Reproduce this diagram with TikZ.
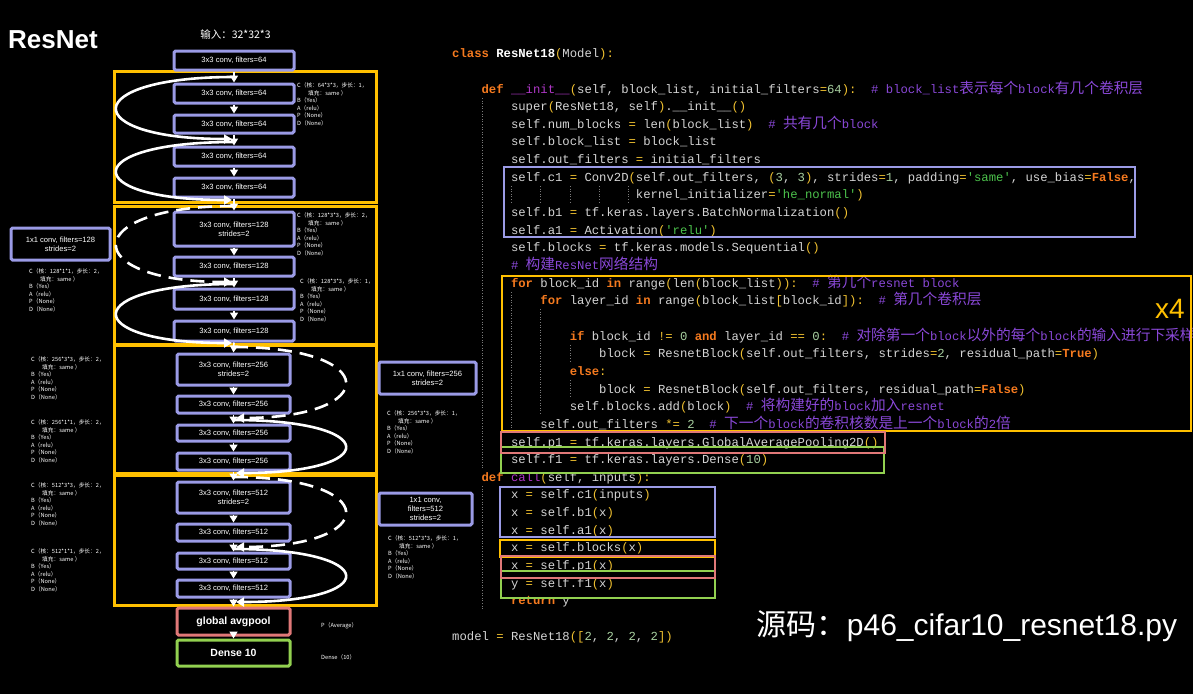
\documentclass[tikz,border=0pt]{standalone}
\usepackage{fontspec}
\setmainfont{Liberation Sans}
\setmonofont{Liberation Mono}
\newfontfamily\zhfont{Noto Sans CJK SC}
\newfontfamily\zhcode[Scale=1.2]{Noto Sans CJK SC}
\usetikzlibrary{arrows.meta}
\definecolor{ctext}{HTML}{D4D4D4}
\definecolor{ckw}{HTML}{F57A1F}
\definecolor{cfn}{HTML}{B038C8}
\definecolor{ccm}{HTML}{8A48D8}
\definecolor{cstr}{HTML}{4CC24C}
\definecolor{cnum}{HTML}{A8D0A0}
\definecolor{cop}{HTML}{F2C230}
\definecolor{lav}{HTML}{9B9BE6}
\definecolor{gold}{HTML}{FFC000}
\definecolor{rosy}{HTML}{E07878}
\definecolor{lgreen}{HTML}{92D050}
\definecolor{guide}{HTML}{7A7A7A}
\newcommand\kwc[1]{\textcolor{ckw}{\bfseries #1}}
\newcommand\fnc[1]{\textcolor{cfn}{#1}}
\newcommand\cmc[1]{\textcolor{ccm}{#1}}
\newcommand\stc[1]{\textcolor{cstr}{#1}}
\newcommand\nuc[1]{\textcolor{cnum}{#1}}
\newcommand\opc[1]{\textcolor{cop}{#1}}
\newcommand\zh[1]{{\zhcode #1}}
\newcommand\bx[7]{\pgfmathsetmacro\mybw{#4-#2}\pgfmathsetmacro\mybh{#5-#3}%
  \node[#6, minimum width=\mybw pt, minimum height=\mybh pt] (#1) at ({(#2+#4)/2},{(#3+#5)/2}) {#7};}
\newcommand\cl[4]{\node[code] (#1) at ({452+7.35*#3},{57.7+17.65*#2}) {#4};}
\newcommand\annot[5]{%
  \node[ann] (#1a) at (#2,#3+2.1) {C（核：#4，步长：#5，};
  \node[ann] (#1b) at (#2+11,#3+10.1) {填充：same ）};
  \node[ann] (#1c) at (#2,#3+17.6) {B（Yes）};
  \node[ann] (#1d) at (#2,#3+25.1) {A（relu）};
  \node[ann] (#1e) at (#2,#3+32.6) {P（None）};
  \node[ann] (#1f) at (#2,#3+40.1) {D（None）};}
\tikzset{
  code/.style={anchor=base west, inner sep=0pt, text=ctext, font={\fontsize{12.25}{14}\ttfamily}},
  lbox/.style={draw=lav, line width=3pt, rounded corners=1.5pt, fill=black, text=white, align=center, inner sep=0pt, font={\fontsize{7.6}{9}\selectfont}},
  rbox/.style={lbox, draw=rosy, font={\fontsize{10.5}{12}\bfseries}},
  gbox/.style={lbox, draw=lgreen, font={\fontsize{10.5}{12}\bfseries}},
  grp/.style={draw=gold, line width=3pt},
  arr/.style={white, line width=1.6pt, -{Triangle[width=8pt,length=7pt]}},
  skip/.style={white, line width=2.6pt, -{Triangle[width=9pt,length=8pt]}},
  dskip/.style={skip, dash pattern=on 14pt off 8pt},
  ann/.style={anchor=base west, inner sep=0pt, text=white, font={\fontsize{5.7}{7}\zhfont}},
  guideline/.style={guide, line width=0.6pt, dotted},
  hl/.style={line width=2.6pt}
}
\begin{document}
\begin{tikzpicture}[x=1pt,y=-1pt]
\fill[black] (0,0) rectangle (1193,694);
\useasboundingbox (0,0) rectangle (1193,694);

% ---------- left diagram ----------
\node[anchor=west, inner sep=0pt, text=white, font={\fontsize{26}{30}\bfseries}] (title) at (8,40) {ResNet};
\node[inner sep=0pt, text=white, font={\fontsize{10.5}{12}\zhfont}] (inp) at (235.5,34) {输入：32*32*3};

\draw[grp] (114,71) rectangle (376,202);
\draw[grp] (114,206) rectangle (376,344);
\draw[grp] (114,345) rectangle (376,473);
\draw[grp] (114,475) rectangle (376,605);

\bx{b1}{174}{51}{294}{70}{lbox}{3x3 conv, filters=64}
\bx{b2}{174}{84}{294}{103}{lbox}{3x3 conv, filters=64}
\bx{b3}{174}{115}{294}{133}{lbox}{3x3 conv, filters=64}
\bx{b4}{174}{147}{294}{166}{lbox}{3x3 conv, filters=64}
\bx{b5}{174}{178}{294}{197}{lbox}{3x3 conv, filters=64}
\bx{c1}{174}{212}{294}{246}{lbox}{3x3 conv, filters=128\\strides=2}
\bx{c2}{174}{257}{294}{276}{lbox}{3x3 conv, filters=128}
\bx{c3}{174}{289}{294}{309}{lbox}{3x3 conv, filters=128}
\bx{c4}{174}{321}{294}{341}{lbox}{3x3 conv, filters=128}
\bx{d1}{177}{354}{290}{385}{lbox}{3x3 conv, filters=256\\strides=2}
\bx{d2}{177}{396}{290}{413}{lbox}{3x3 conv, filters=256}
\bx{d3}{177}{425}{290}{441}{lbox}{3x3 conv, filters=256}
\bx{d4}{177}{453}{290}{470}{lbox}{3x3 conv, filters=256}
\bx{e1}{177}{482}{290}{513}{lbox}{3x3 conv, filters=512\\strides=2}
\bx{e2}{177}{524}{290}{541}{lbox}{3x3 conv, filters=512}
\bx{e3}{177}{553}{290}{569}{lbox}{3x3 conv, filters=512}
\bx{e4}{177}{580}{290}{597}{lbox}{3x3 conv, filters=512}
\bx{gp}{177}{608}{290}{635}{rbox}{global avgpool}
\bx{ds}{177}{640}{290}{666}{gbox}{Dense 10}
\bx{s1}{11}{228}{110}{260}{lbox}{1x1 conv, filters=128\\strides=2}
\bx{s2}{379}{362}{476}{394}{lbox}{1x1 conv, filters=256\\strides=2}
\bx{s3}{379}{493}{472}{525}{lbox}{1x1 conv,\\filters=512\\strides=2}

\foreach \a/\b in {b1/b2,b2/b3,b3/b4,b4/b5,b5/c1,c1/c2,c2/c3,c3/c4,c4/d1,d1/d2,d2/d3,d3/d4,d4/e1,e1/e2,e2/e3,e3/e4,e4/gp,gp/ds}
  \draw[arr] (\a.south) -- (\b.north);

\coordinate (j1) at (234,77);  \coordinate (j2) at (232,139);
\coordinate (j3) at (234,142); \coordinate (j4) at (232,200);
\coordinate (k1) at (234,206); \coordinate (k2) at (232,282);
\coordinate (k3) at (234,284); \coordinate (k4) at (232,343);
\coordinate (m1) at (234,347); \coordinate (m2) at (236,418);
\coordinate (m3) at (234,420); \coordinate (m4) at (236,473);
\coordinate (n1) at (234,477); \coordinate (n2) at (236,547);
\coordinate (n3) at (234,549); \coordinate (n4) at (236,602);
\draw[skip] (j1) .. controls (78,77) and (78,139) .. (j2);
\draw[skip] (j3) .. controls (78,142) and (78,200) .. (j4);
\draw[dskip] (k1) .. controls (78,206) and (78,282) .. (k2);
\draw[skip] (k3) .. controls (78,284) and (78,343) .. (k4);
\draw[dskip] (m1) .. controls (382,347) and (382,418) .. (m2);
\draw[skip] (m3) .. controls (382,420) and (382,473) .. (m4);
\draw[dskip] (n1) .. controls (382,477) and (382,547) .. (n2);
\draw[skip] (n3) .. controls (382,549) and (382,602) .. (n4);

\annot{a1}{297}{85}{64*3*3}{1}
\annot{a2}{297}{215}{128*3*3}{2}
\annot{a3}{29}{271}{128*1*1}{2}
\annot{a4}{300}{281}{128*3*3}{1}
\annot{a5}{31}{359}{256*3*3}{2}
\annot{a6}{31}{422}{256*1*1}{2}
\annot{a7}{387}{413}{256*3*3}{1}
\annot{a8}{31}{485}{512*3*3}{2}
\annot{a9}{31}{551}{512*1*1}{2}
\annot{a10}{388}{538}{512*3*3}{1}
\node[ann] (pav) at (321,627.1) {P（Average）};
\node[ann] (dtn) at (321,659.1) {Dense（10）};

% ---------- code ----------
\draw[guideline] (482,98) -- (482,468);
\draw[guideline] (482,486) -- (482,610);
\draw[guideline] (511,292) -- (511,432);
\draw[guideline] (540,309) -- (540,415);
\draw[guideline] (570,345) -- (570,362);
\draw[guideline] (570,380) -- (570,397);
\foreach \gx in {511,540,570,599,628} \draw[guideline] (\gx,186) -- (\gx,204);

\cl{L0}{0}{0}{\kwc{class} \textcolor{white}{\bfseries ResNet18}\opc{(}Model\opc{):}}
\cl{L2}{2}{4}{\kwc{def} \fnc{\_\_init\_\_}\opc{(}self, block\_list, initial\_filters\opc{=}\nuc{64}\opc{):}~~\cmc{\# block\_list\zh{表示每个}block\zh{有几个卷积层}}}
\cl{L3}{3}{8}{super\opc{(}ResNet18, self\opc{)}.\_\_init\_\_\opc{()}}
\cl{L4}{4}{8}{self.num\_blocks \opc{=} len\opc{(}block\_list\opc{)}~~\cmc{\# \zh{共有几个}block}}
\cl{L5}{5}{8}{self.block\_list \opc{=} block\_list}
\cl{L6}{6}{8}{self.out\_filters \opc{=} initial\_filters}
\cl{L7}{7}{8}{self.c1 \opc{=} Conv2D\opc{(}self.out\_filters, \opc{(}\nuc{3}, \nuc{3}\opc{)}, strides\opc{=}\nuc{1}, padding\opc{=}\stc{'same'}, use\_bias\opc{=}\kwc{False},}
\cl{L8}{8}{25}{kernel\_initializer\opc{=}\stc{'he\_normal'}\opc{)}}
\cl{L9}{9}{8}{self.b1 \opc{=} tf.keras.layers.BatchNormalization\opc{()}}
\cl{L10}{10}{8}{self.a1 \opc{=} Activation\opc{(}\stc{'relu'}\opc{)}}
\cl{L11}{11}{8}{self.blocks \opc{=} tf.keras.models.Sequential\opc{()}}
\cl{L12}{12}{8}{\cmc{\# \zh{构建}ResNet\zh{网络结构}}}
\cl{L13}{13}{8}{\kwc{for} block\_id \kwc{in} range\opc{(}len\opc{(}block\_list\opc{)):}~~\cmc{\# \zh{第几个}resnet block}}
\cl{L14}{14}{12}{\kwc{for} layer\_id \kwc{in} range\opc{(}block\_list\opc{[}block\_id\opc{]):}~~\cmc{\# \zh{第几个卷积层}}}
\cl{L16}{16}{16}{\kwc{if} block\_id \opc{!=} \nuc{0} \kwc{and} layer\_id \opc{==} \nuc{0}\opc{:}~~\cmc{\# \zh{对除第一个}block\zh{以外的每个}block\zh{的输入进行下采样}}}
\cl{L17}{17}{20}{block \opc{=} ResnetBlock\opc{(}self.out\_filters, strides\opc{=}\nuc{2}, residual\_path\opc{=}\kwc{True}\opc{)}}
\cl{L18}{18}{16}{\kwc{else}\opc{:}}
\cl{L19}{19}{20}{block \opc{=} ResnetBlock\opc{(}self.out\_filters, residual\_path\opc{=}\kwc{False}\opc{)}}
\cl{L20}{20}{16}{self.blocks.add\opc{(}block\opc{)}~~\cmc{\# \zh{将构建好的}block\zh{加入}resnet}}
\cl{L21}{21}{12}{self.out\_filters \opc{*=} \nuc{2}~~\cmc{\# \zh{下一个}block\zh{的卷积核数是上一个}block\zh{的}2\zh{倍}}}
\cl{L22}{22}{8}{self.p1 \opc{=} tf.keras.layers.GlobalAveragePooling2D\opc{()}}
\cl{L23}{23}{8}{self.f1 \opc{=} tf.keras.layers.Dense\opc{(}\nuc{10}\opc{)}}
\cl{L24}{24}{4}{\kwc{def} \fnc{call}\opc{(}self, inputs\opc{):}}
\cl{L25}{25}{8}{x \opc{=} self.c1\opc{(}inputs\opc{)}}
\cl{L26}{26}{8}{x \opc{=} self.b1\opc{(}x\opc{)}}
\cl{L27}{27}{8}{x \opc{=} self.a1\opc{(}x\opc{)}}
\cl{L28}{28}{8}{x \opc{=} self.blocks\opc{(}x\opc{)}}
\cl{L29}{29}{8}{x \opc{=} self.p1\opc{(}x\opc{)}}
\cl{L30}{30}{8}{y \opc{=} self.f1\opc{(}x\opc{)}}
\cl{L31}{31}{8}{\kwc{return} y}
\cl{L33}{33}{0}{model \opc{=} ResNet18\opc{([}\nuc{2}, \nuc{2}, \nuc{2}, \nuc{2}\opc{])}}

\draw[hl, lav] (504,167) rectangle (1135,237);
\draw[hl, gold] (502,276) rectangle (1191,431);
\draw[hl, lgreen] (501,447) rectangle (884,473);
\draw[hl, rosy] (501,432) rectangle (885,453);
\draw[hl, lav] (500,487) rectangle (715,537);
\draw[hl, gold] (500,540) rectangle (715,557);
\draw[hl, lgreen] (501,571) rectangle (715,598);
\draw[hl, rosy] (501,556) rectangle (715,578);

\node[inner sep=0pt, text=gold, font={\fontsize{28}{30}\selectfont}] (x4) at (1170,309) {x4};
\node[inner sep=0pt, text=white, font={\fontsize{30}{34}\selectfont}] (src) at (967,626) {{\zhfont 源码：}p46\_cifar10\_resnet18.py};
\end{tikzpicture}
\end{document}
